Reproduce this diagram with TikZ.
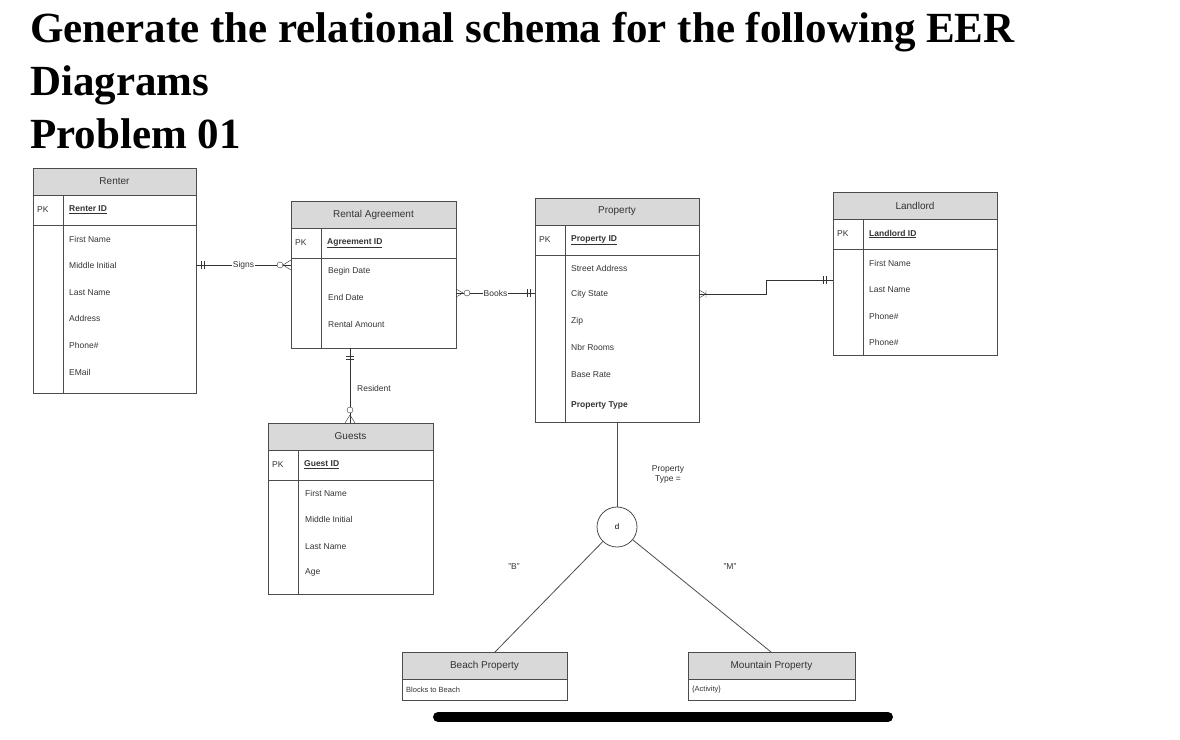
\documentclass[tikz,border=0pt]{standalone}
\usepackage{fontspec}
\setmainfont{Liberation Serif}
\setsansfont{Liberation Sans}
\usetikzlibrary{calc}

\tikzset{
  attr/.style={anchor=west,font=\sffamily\fontsize{8.5}{10}\selectfont,text=black!80,inner sep=0pt},
  ttl/.style={font=\sffamily\fontsize{10}{12}\selectfont,text=black!80,inner sep=0pt},
  lbl/.style={font=\sffamily\fontsize{8.5}{10}\selectfont,text=black!80,fill=white,inner sep=1pt},
  box/.style={draw=black!70,line width=0.8pt}
}
% table: name, x1, x2, split, ytop, ypk, ybot, title, key
\newcommand{\erTable}[9]{%
  \fill[black!15] (#2,#5) rectangle (#3,#6);
  \draw[box] (#2,#5) rectangle (#3,#7);
  \draw[box] (#2,#6) -- (#3,#6);
  \draw[box] (#2,#6+30) -- (#3,#6+30);
  \draw[box] (#4,#6) -- (#4,#7);
  \node[ttl] (#1-t) at ({(#2+#3)/2},{(#5+#6)/2}) {#8};
  \node[attr] (#1-pk) at (#2+4,#6+15) {PK};
  \node[attr] (#1-k) at (#4+6,#6+15) {\textbf{\underline{#9}}};
}
\newcommand{\rows}[3]{% x, first y, list
  \foreach \t [count=\i from 0] in {#3} {\node[attr] at (#1,#2+26.6*\i) {\t};}
}

\begin{document}
\begin{tikzpicture}[x=1pt,y=-1pt]
\useasboundingbox (0,0) rectangle (1180,739);

\node[anchor=base west,inner sep=0pt,font=\bfseries\fontsize{43}{45}\selectfont] (h1) at (30,42) {Generate the relational schema for the following EER};
\node[anchor=base west,inner sep=0pt,font=\bfseries\fontsize{43}{45}\selectfont] (h2) at (30,95) {Diagrams};
\node[anchor=base west,inner sep=0pt,font=\bfseries\fontsize{43}{45}\selectfont] (h3) at (30,148) {Problem 01};

\erTable{renter}{33}{196}{63}{168}{195}{393}{Renter}{Renter ID}
\rows{69}{239}{First Name,Middle Initial,Last Name,Address,Phone\#,EMail}

\erTable{rent}{291}{456}{321}{201}{228}{348}{Rental Agreement}{Agreement ID}
\rows{328}{271}{Begin Date,End Date,Rental Amount}

\erTable{prop}{535}{699}{565}{198}{225}{422}{Property}{Property ID}
\rows{571}{268}{Street Address,City State,Zip,Nbr Rooms,Base Rate}
\node[attr] (ptype) at (571,405) {\textbf{Property Type}};

\erTable{land}{833}{997}{863}{192}{219}{355}{Landlord}{Landlord ID}
\rows{869}{263}{First Name,Last Name,Phone\#,Phone\#}

\erTable{guest}{268}{433}{298}{423}{450}{594}{Guests}{Guest ID}
\rows{305}{493}{First Name,Middle Initial,Last Name,Age}

% subclasses
\fill[black!15] (402,652) rectangle (567,679);
\draw[box] (402,652) rectangle (567,700); \draw[box] (402,679) -- (567,679);
\node[ttl] (beach) at (484.5,665.5) {Beach Property};
\node[attr,font=\sffamily\fontsize{7.5}{9}\selectfont] (beachA) at (406,690) {Blocks to Beach};
\coordinate (beach-n) at (495,652);
\fill[black!15] (688,652) rectangle (855,679);
\draw[box] (688,652) rectangle (855,700); \draw[box] (688,679) -- (855,679);
\node[ttl] (mount) at (771.5,665.5) {Mountain Property};
\node[attr,font=\sffamily\fontsize{7.5}{9}\selectfont] (mountA) at (692,690) {\{Activity\}};
\coordinate (mount-n) at (771,652);

\node[draw=black!70,line width=0.8pt,circle,minimum size=40pt,inner sep=0pt,font=\sffamily\fontsize{8}{9}\selectfont] (d) at (617,527) {d};
\coordinate (prop-s) at (617,422);
\draw[box] (prop-s) -- (d);
\draw[box] (d) -- (beach-n);
\draw[box] (d) -- (mount-n);
\node[lbl,align=center] (ptq) at (668,474) {Property\\Type =};
\node[lbl] (qb) at (514,567) {"B"};
\node[lbl] (qm) at (730,567) {"M"};

% Signs
\coordinate (s1) at (196,265); \coordinate (s2) at (291,265);
\draw[black!80] (s1) -- node[lbl] {Signs} (s2);
\draw[black!80] (201,261) -- (201,269) (204,261) -- (204,269);
\draw[black!80,fill=white] (280,265) circle (3);
\draw[black!80] (283,265) -- (291,260) (283,265) -- (291,270);

% Books
\coordinate (b1) at (456,293); \coordinate (b2) at (535,293);
\draw[black!80] (b1) -- node[lbl] {Books} (b2);
\draw[black!80] (456,289) -- (463,293) -- (456,297);
\draw[black!80,fill=white] (467,293) circle (3);
\draw[black!80] (527,289) -- (527,297) (530,289) -- (530,297);

% Landlord owns
\coordinate (l1) at (699,294); \coordinate (l2) at (833,280);
\draw[black!80] (l1) -- (766,294) -- (766,280) -- (l2);
\draw[black!80] (699,290) -- (706,294) -- (699,298) (706,290) -- (706,298);
\draw[black!80] (823,276) -- (823,284) (826,276) -- (826,284);

% Resident
\coordinate (r1) at (350,348); \coordinate (r2) at (350,423);
\draw[black!80] (r1) -- (r2);
\node[lbl,anchor=west] (res) at (356,388) {Resident};
\draw[black!80] (346,356) -- (354,356) (346,359) -- (354,359);
\draw[black!80,fill=white] (350,410) circle (3);
\draw[black!80] (345,423) -- (350,415) -- (355,423);

\draw[line width=10pt,line cap=round] (438,717) -- (888,717);
\end{tikzpicture}
\end{document}
